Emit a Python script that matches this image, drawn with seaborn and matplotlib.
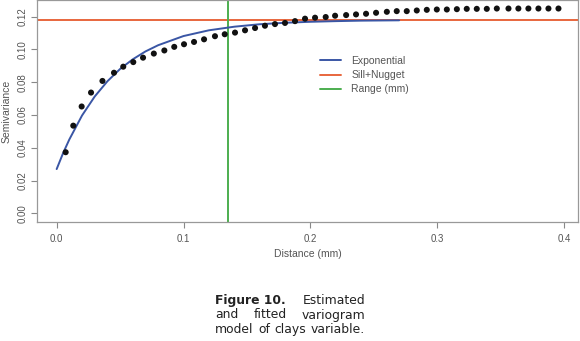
import matplotlib.pyplot as plt
import seaborn as sns
import pandas as pd

lag = [0.0071, 0.0131, 0.0197, 0.0271, 0.0361, 0.0452, 0.0525, 0.0604, 0.0681, 0.0766,
       0.0849, 0.0927, 0.1004, 0.1083, 0.1162, 0.1248, 0.1325, 0.1406, 0.1485, 0.1564,
       0.1642, 0.1721, 0.1800, 0.1879, 0.1958, 0.2037, 0.2121, 0.2195, 0.2282, 0.2360,
       0.2439, 0.2518, 0.2603, 0.2681, 0.2760, 0.2839, 0.2918, 0.2997, 0.3076, 0.3155,
       0.3233, 0.3312, 0.3391, 0.3470, 0.3562, 0.3640, 0.3719, 0.3798, 0.3877, 0.3956]
semiv = [0.0373, 0.0535, 0.0652, 0.0737, 0.0808, 0.0858, 0.0895, 0.0923, 0.0950, 0.0975,
         0.0994, 0.1016, 0.1032, 0.1046, 0.1062, 0.1081, 0.1093, 0.1103, 0.1117, 0.1131,
         0.1145, 0.1155, 0.1162, 0.1173, 0.1188, 0.1194, 0.1198, 0.1206, 0.1210, 0.1214,
         0.1218, 0.1224, 0.1230, 0.1234, 0.1234, 0.1238, 0.1242, 0.1244, 0.1244, 0.1246,
         0.1248, 0.1248, 0.1248, 0.1250, 0.1250, 0.1250, 0.1250, 0.1250, 0.1250, 0.1250]

# fitted exponential model
fit_x = [0.0, 0.005, 0.01, 0.02, 0.03, 0.04, 0.05, 0.06, 0.07, 0.08, 0.10, 0.12,
         0.14, 0.16, 0.18, 0.20, 0.22, 0.24, 0.27]
fit_y = [0.0270, 0.0366, 0.0451, 0.0597, 0.0713, 0.0806, 0.0881, 0.0940, 0.0988, 0.1026,
         0.1082, 0.1117, 0.1139, 0.1154, 0.1163, 0.1169, 0.1173, 0.1176, 0.1178]

sill_nugget = 0.118
range_mm = 0.135

xticks = [0.0, 0.1, 0.2, 0.3, 0.4]
yticks = [0.00, 0.02, 0.04, 0.06, 0.08, 0.10, 0.12]

caption = [['Figure 10.', 'Estimated'],
           ['and', 'fitted', 'variogram'],
           ['model', 'of', 'clays', 'variable.']]

sns.set_style("white")
plt.rcParams['font.family'] = ['Liberation Sans', 'DejaVu Sans']

grey = '#555555'
fig = plt.figure(figsize=(5.8, 3.41), dpi=100)
ax = fig.add_axes([37/580, 1 - 222/341, 541/580, 222/341])

emp = pd.DataFrame({'Distance': lag, 'Semivariance': semiv})
fit = pd.DataFrame({'Distance': fit_x, 'Semivariance': fit_y})

sns.scatterplot(data=emp, x='Distance', y='Semivariance', color='#111111', s=19,
                edgecolor='none', ax=ax, zorder=3)
sns.lineplot(data=fit, x='Distance', y='Semivariance', color='#3a56a5', lw=1.4,
             ax=ax, label='Exponential', zorder=2)
ax.axhline(sill_nugget, color='#e8663d', lw=1.4, label='Sill+Nugget', zorder=1)
ax.axvline(range_mm, color='#4cae4f', lw=1.4, label='Range (mm)', zorder=1)

ax.set_xlim(-0.0155, 0.411)
ax.set_ylim(-0.0053, 0.1302)
ax.set_xticks(xticks)
ax.set_xticklabels(['0.0', '0.1', '0.2', '0.3', '0.4'])
ax.set_yticks(yticks)
ax.set_yticklabels(['%.2f' % v for v in yticks], rotation=90, va='center')
ax.tick_params(axis='both', colors='#888888', labelcolor=grey, labelsize=7,
               length=4, width=0.8, direction='out', bottom=True, left=True)
ax.tick_params(axis='x', pad=5)
ax.tick_params(axis='y', pad=3)
for sp in ax.spines.values():
    sp.set_color('#999999')
    sp.set_linewidth(0.9)

ax.set_xlabel('Distance (mm)', fontsize=7.5, color=grey, labelpad=3)
ax.set_ylabel('Semivariance', fontsize=7.5, color=grey, labelpad=4)

leg = ax.legend(loc='upper left', bbox_to_anchor=(0.506, 0.79), frameon=False,
                fontsize=7.5, handlelength=2.0, handletextpad=1.0, labelspacing=0.4)
for t in leg.get_texts():
    t.set_color(grey)

# justified caption block, x from 215 to 365 px
left, right = 215/580, 365/580
r = fig.canvas.get_renderer()
for i, words in enumerate(caption):
    y = 1 - (304 + 14.5 * i) / 341
    texts = []
    for w in words:
        weight = 'bold' if w == 'Figure 10.' else 'normal'
        texts.append(fig.text(left, y, w, fontsize=8.9, family='DejaVu Sans',
                              weight=weight, va='baseline', ha='left', color='#222222'))
    widths = [t.get_window_extent(r).width / fig.bbox.width for t in texts]
    gap = (right - left - sum(widths)) / (len(words) - 1)
    pos = left
    for t, wd in zip(texts, widths):
        t.set_x(pos)
        pos += wd + gap

fig.savefig('out.png', dpi=100)
